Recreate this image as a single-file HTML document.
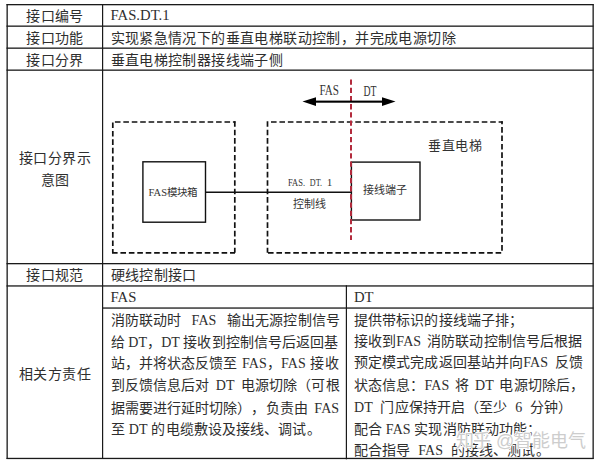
<!DOCTYPE html>
<html lang="zh-CN"><head><meta charset="utf-8">
<style>
html,body{margin:0;padding:0;background:#fff;}
body{width:600px;height:463px;position:relative;overflow:hidden;text-spacing-trim:space-all;font-family:"Liberation Serif",serif;color:#2e2e2e;}
.t{position:absolute;font-size:14px;letter-spacing:0.4px;line-height:16px;white-space:nowrap;}
.l{font-size:14.7px;letter-spacing:0;}
.j{position:absolute;font-size:14px;line-height:16px;white-space:nowrap;text-align:justify;text-align-last:justify;}
.c{text-align:center;}
svg{position:absolute;left:0;top:0;}
</style></head><body>
<svg width="600" height="463" viewBox="0 0 600 463">
<g fill="#1a1a1a">
<!-- horizontal table lines -->
<rect x="6.5" y="4" width="587" height="1.3"/>
<rect x="6.5" y="25.5" width="587" height="1.3"/>
<rect x="6.5" y="47.5" width="587" height="1.3"/>
<rect x="6.5" y="69.5" width="587" height="1.3"/>
<rect x="6.5" y="263" width="587" height="1.3"/>
<rect x="6.5" y="285.3" width="587" height="1.3"/>
<rect x="102" y="307.4" width="491.5" height="1.3"/>
<rect x="6.5" y="457.8" width="587" height="1.3"/>
<!-- vertical -->
<rect x="6.5" y="4" width="1.3" height="455"/>
<rect x="102" y="4" width="1.2" height="455"/>
<rect x="592.5" y="4" width="1.3" height="455"/>
<rect x="345.8" y="285.3" width="1.2" height="174"/>
</g>
<!-- diagram -->
<g fill="none" stroke="#111" stroke-width="1.7" stroke-dasharray="5.6 2.83">
<path d="M114.9 122H235.5"/>
<path d="M112.8 122.5V252.8"/>
<path d="M112 252.8H235"/>
<path d="M234.8 121.2V252.8"/>
<path d="M271 122H502.8"/>
<path d="M267.5 121.2V252.8"/>
<path d="M501.2 252.8H267.5"/>
<path d="M502 250.7V121.2"/>
</g>
<g fill="none" stroke="#111" stroke-width="1.4">
<rect x="142.9" y="161.8" width="62.6" height="60.4"/>
<rect x="351.4" y="162.1" width="68.6" height="57.9"/>
<line x1="205.5" y1="192.2" x2="351.4" y2="192.2"/>
</g>
<line x1="351" y1="79.5" x2="351" y2="240" stroke="#b32b3d" stroke-width="2" stroke-dasharray="5.3 2.9"/>
<g fill="#000">
<rect x="314" y="100.6" width="70" height="2.1"/>
<polygon points="302.5,101.6 316,97.2 316,106"/>
<polygon points="395.5,101.6 382,97.2 382,106"/>
</g>
<g font-family="Liberation Serif" fill="#333">
<text x="319.5" y="94.6" font-size="15" textLength="19.5" lengthAdjust="spacingAndGlyphs">FAS</text>
<text x="363.5" y="96.1" font-size="15" textLength="13" lengthAdjust="spacingAndGlyphs">DT</text>
<text x="288" y="186" font-size="11.2" textLength="17" lengthAdjust="spacingAndGlyphs">FAS.</text><text x="309.8" y="186" font-size="11.2" textLength="12.2" lengthAdjust="spacingAndGlyphs">DT.</text><text x="326.8" y="186" font-size="11.2">1</text>
<text x="293.3" y="208" font-size="11">控制线</text>
<text x="148.5" y="195.5" font-size="10.5">FAS模块箱</text>
<text x="363.3" y="194" font-size="11">接线端子</text>
<text x="428.3" y="149.7" font-size="13" letter-spacing="0.6">垂直电梯</text>
</g>
</svg>
<!-- left column labels -->
<div class="t c" style="left:7px;width:96px;top:8.6px;">接口编号</div>
<div class="t c" style="left:7px;width:96px;top:30.6px;">接口功能</div>
<div class="t c" style="left:7px;width:96px;top:52.6px;">接口分界</div>
<div class="t c" style="left:7px;width:96px;top:150.6px;">接口分界示</div>
<div class="t c" style="left:7px;width:96px;top:172.6px;">意图</div>
<div class="t c" style="left:7px;width:96px;top:267.6px;">接口规范</div>
<div class="t c" style="left:7px;width:96px;top:366.6px;">相关方责任</div>
<!-- right column -->
<div class="t l" style="left:110.5px;top:7px;">FAS.DT.1</div>
<div class="t" style="left:110.5px;top:30.6px;">实现紧急情况下的垂直电梯联动控制，并完成电源切除</div>
<div class="t" style="left:110.5px;top:52.6px;">垂直电梯控制器接线端子侧</div>
<div class="t" style="left:110.5px;top:267.6px;">硬线控制接口</div>
<div class="t l" style="left:110.5px;top:289px;">FAS</div>
<div class="t l" style="left:354px;top:289px;">DT</div>
<!-- FAS column -->
<div class="t" id="f1" style="letter-spacing:0.1px;word-spacing:6.95px;left:110.5px;top:312.6px;">消防联动时 FAS 输出无源控制信号</div>
<div class="t" id="f2" style="letter-spacing:0.1px;word-spacing:0.00px;left:110.5px;top:334.6px;">给 DT，DT 接收到控制信号后返回基</div>
<div class="t" id="f3" style="letter-spacing:0.1px;word-spacing:0.95px;left:110.5px;top:355.6px;">站，并将状态反馈至 FAS，FAS 接收</div>
<div class="t" id="f4" style="letter-spacing:0.1px;word-spacing:2.95px;left:110.5px;top:377.6px;">到反馈信息后对 DT 电源切除（可根</div>
<div class="t" id="f5" style="letter-spacing:0.1px;word-spacing:2.80px;left:110.5px;top:400.6px;">据需要进行延时切除），负责由 FAS</div>
<div class="t" id="f6" style="letter-spacing:0.1px;word-spacing:0.50px;left:110.5px;top:422.1px;">至 DT 的电缆敷设及接线、调试。</div>
<!-- DT column -->
<div class="t" id="d1" style="letter-spacing:0.1px;word-spacing:0.00px;left:354px;top:312.6px;">提供带标识的接线端子排；</div>
<div class="t" id="d2" style="letter-spacing:0.1px;word-spacing:2.30px;left:354px;top:333.6px;">接收到FAS 消防联动控制信号后根据</div>
<div class="t" id="d3" style="letter-spacing:0.1px;word-spacing:3.30px;left:354px;top:355.1px;">预定模式完成返回基站并向FAS 反馈</div>
<div class="t" id="d4" style="letter-spacing:0.1px;word-spacing:2.17px;left:354px;top:377.6px;">状态信息：FAS 将 DT 电源切除后，</div>
<div class="t" id="d5" style="letter-spacing:0.1px;word-spacing:4.24px;left:354px;top:399.6px;">DT 门应保持开启（至少 6 分钟）</div>
<div class="t" id="d6" style="letter-spacing:0.1px;word-spacing:0.00px;left:354px;top:421.6px;">配合 FAS 实现消防联动功能；</div>
<div class="t" id="d7" style="letter-spacing:0.1px;word-spacing:4.20px;left:354px;top:442.6px;">配合指导 FAS 的接线、测试。</div>
<!-- watermark -->
<div id="wm" style="position:absolute;left:455.5px;top:430.5px;font-family:'Liberation Sans',sans-serif;font-size:18px;letter-spacing:-0.15px;line-height:20px;color:#cdcdcd;white-space:nowrap;text-shadow:0 0 1px #fff,0.7px 0 0 #fff,-0.7px 0 0 #fff,0 0.7px 0 #fff,0 -0.7px 0 #fff;">知乎 @智能电气</div>
</body></html>
